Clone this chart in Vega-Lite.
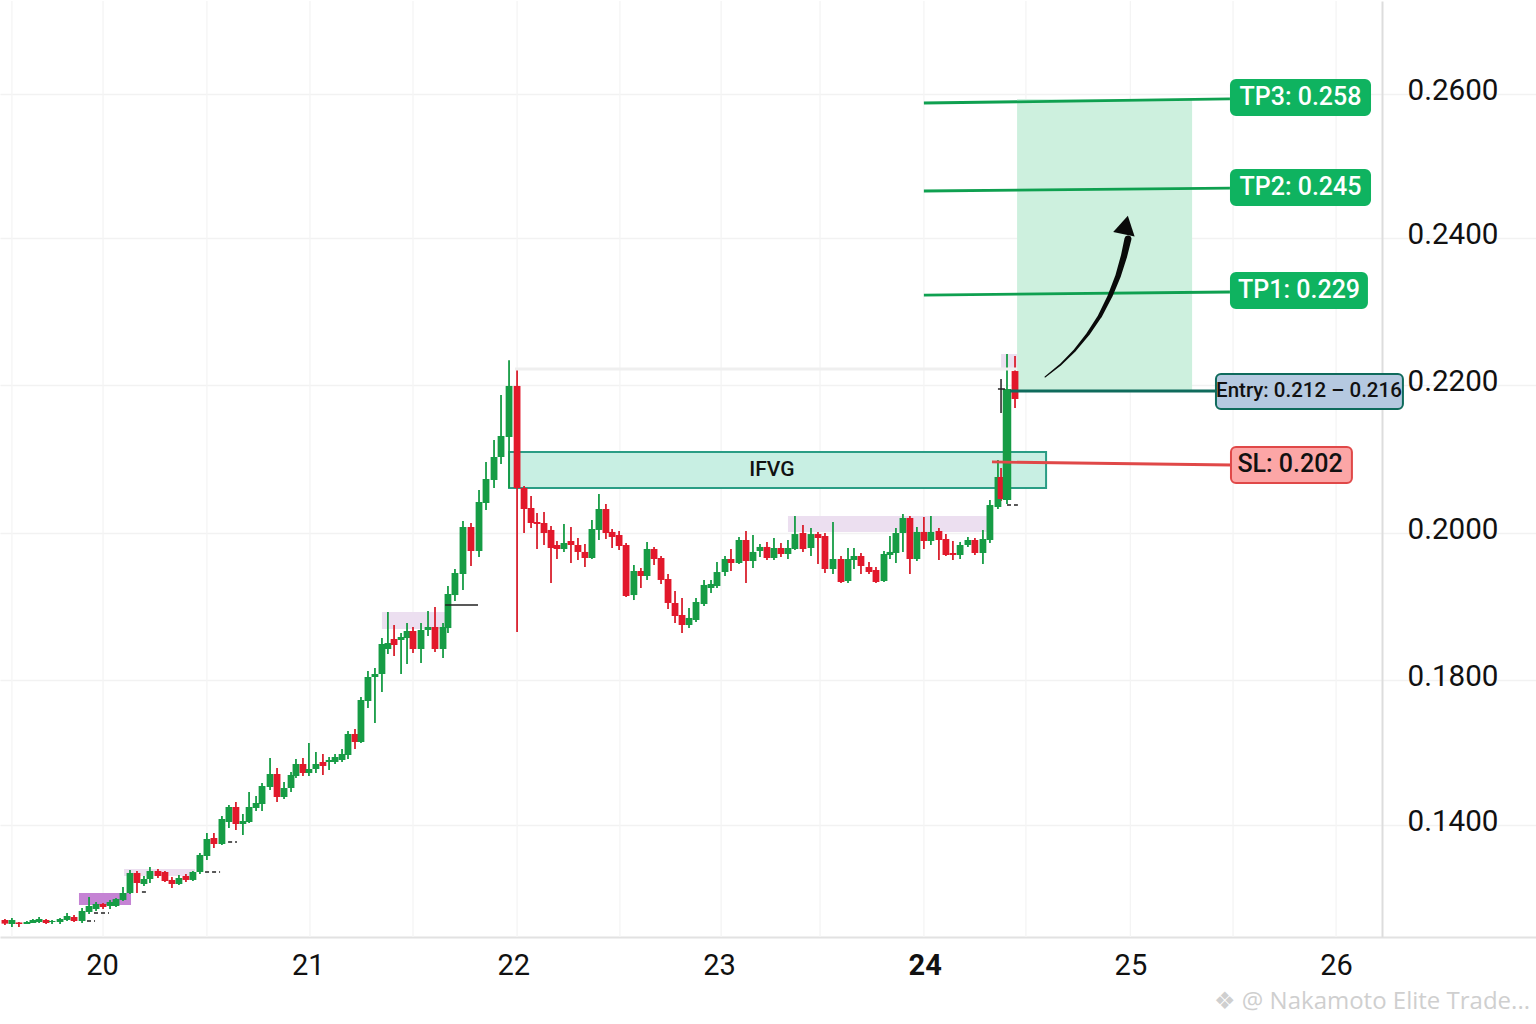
{
  "$schema": "https://vega.github.io/schema/vega-lite/v6.json",
  "width": 1536,
  "height": 936,
  "padding": 0,
  "background": "#ffffff",
  "title": {
    "text": "❖ @ Nakamoto Elite Trade...",
    "orient": "bottom",
    "anchor": "end",
    "frame": "group",
    "font": "Open Sans, DejaVu Sans",
    "fontSize": 24,
    "fontWeight": "normal",
    "color": "#cfcfcf",
    "offset": 10,
    "dx": -6
  },
  "datasets": {
    "vgrid": [
      {"t": 19.562}, {"t": 20.005}, {"t": 20.51}, {"t": 21.011}, {"t": 21.512}, {"t": 22.018}, {"t": 22.518},
      {"t": 23.01}, {"t": 23.491}, {"t": 23.996}, {"t": 24.492}, {"t": 25.0}, {"t": 25.499}, {"t": 26.0}
    ],
    "zones": [
      {"kind": "target", "t": 24.449, "t2": 25.3, "p": 0.25931, "p2": 0.21919},
      {"kind": "lilac", "t": 20.107, "t2": 20.452, "p": 0.12786, "p2": 0.12593},
      {"kind": "purple", "t": 19.888, "t2": 20.141, "p": 0.12124, "p2": 0.11793},
      {"kind": "lilac", "t": 21.361, "t2": 21.677, "p": 0.18925, "p2": 0.18694},
      {"kind": "lilac", "t": 23.335, "t2": 24.303, "p": 0.2023, "p2": 0.20014},
      {"kind": "lilac", "t": 24.371, "t2": 24.449, "p": 0.22422, "p2": 0.22218}
    ],
    "ifvg": [{"t": 21.979, "t2": 24.59, "p": 0.21095, "p2": 0.20608}],
    "levels": [
      {"level": "range", "t": 22.008, "t2": 24.449, "p": 0.22218, "p2": 0.22218},
      {"level": "TP3", "t": 23.996, "t2": 25.484, "p": 0.25875, "p2": 0.25931},
      {"level": "TP2", "t": 23.996, "t2": 25.484, "p": 0.24653, "p2": 0.24694},
      {"level": "TP1", "t": 23.996, "t2": 25.484, "p": 0.23224, "p2": 0.23265},
      {"level": "Entry", "t": 24.415, "t2": 25.416, "p": 0.21919, "p2": 0.21919},
      {"level": "SL", "t": 24.327, "t2": 25.494, "p": 0.2096, "p2": 0.20919}
    ],
    "stubs": [
      {"kind": "dashed", "t": 19.927, "t2": 19.966, "p": 0.11351, "p2": 0.11351},
      {"kind": "dashed", "t": 19.961, "t2": 20.034, "p": 0.11572, "p2": 0.11572},
      {"kind": "dashed", "t": 20.194, "t2": 20.224, "p": 0.12151, "p2": 0.12151},
      {"kind": "dashed", "t": 20.501, "t2": 20.574, "p": 0.12703, "p2": 0.12703},
      {"kind": "dashed", "t": 20.613, "t2": 20.656, "p": 0.13531, "p2": 0.13531},
      {"kind": "dashed", "t": 24.4, "t2": 24.453, "p": 0.20378, "p2": 0.20378},
      {"kind": "solid", "t": 21.668, "t2": 21.828, "p": 0.1902, "p2": 0.1902},
      {"kind": "solid", "t": 24.371, "t2": 24.371, "p": 0.22082, "p2": 0.21622},
      {"kind": "solid", "t": 24.356, "t2": 24.39, "p": 0.21946, "p2": 0.21946}
    ],
    "candles": [
      {"t":19.528,"o":0.11379,"h":0.11406,"l":0.11241,"c":0.11278},
      {"t":19.562,"o":0.11268,"h":0.11434,"l":0.11185,"c":0.11379},
      {"t":19.596,"o":0.1131,"h":0.11323,"l":0.11185,"c":0.11268},
      {"t":19.635,"o":0.11268,"h":0.11351,"l":0.11268,"c":0.11323},
      {"t":19.664,"o":0.11296,"h":0.11406,"l":0.11296,"c":0.11379},
      {"t":19.694,"o":0.11323,"h":0.11461,"l":0.11296,"c":0.11406},
      {"t":19.728,"o":0.11379,"h":0.11406,"l":0.11268,"c":0.11296},
      {"t":19.757,"o":0.11323,"h":0.11379,"l":0.11268,"c":0.11351},
      {"t":19.796,"o":0.11323,"h":0.11434,"l":0.11268,"c":0.11406},
      {"t":19.83,"o":0.11379,"h":0.11572,"l":0.11351,"c":0.11489},
      {"t":19.864,"o":0.11461,"h":0.11517,"l":0.11323,"c":0.11351},
      {"t":19.903,"o":0.11351,"h":0.1171,"l":0.11296,"c":0.11627},
      {"t":19.937,"o":0.11599,"h":0.12013,"l":0.11544,"c":0.11765},
      {"t":19.971,"o":0.11682,"h":0.11875,"l":0.11627,"c":0.1182},
      {"t":20.005,"o":0.1182,"h":0.11848,"l":0.11682,"c":0.11737},
      {"t":20.039,"o":0.11765,"h":0.11931,"l":0.11682,"c":0.11875},
      {"t":20.068,"o":0.11765,"h":0.11986,"l":0.11737,"c":0.11958},
      {"t":20.102,"o":0.11931,"h":0.1229,"l":0.11903,"c":0.12124},
      {"t":20.136,"o":0.12124,"h":0.12759,"l":0.12096,"c":0.12676},
      {"t":20.17,"o":0.12676,"h":0.12731,"l":0.12124,"c":0.124},
      {"t":20.204,"o":0.12372,"h":0.12593,"l":0.12317,"c":0.1251},
      {"t":20.233,"o":0.1251,"h":0.12841,"l":0.124,"c":0.12731},
      {"t":20.272,"o":0.12731,"h":0.12786,"l":0.12538,"c":0.12593},
      {"t":20.306,"o":0.12703,"h":0.12731,"l":0.12427,"c":0.12455},
      {"t":20.34,"o":0.12483,"h":0.12565,"l":0.12262,"c":0.12372},
      {"t":20.374,"o":0.12372,"h":0.1262,"l":0.12345,"c":0.12538},
      {"t":20.408,"o":0.12593,"h":0.12648,"l":0.12427,"c":0.12483},
      {"t":20.442,"o":0.12483,"h":0.12731,"l":0.12455,"c":0.12703},
      {"t":20.476,"o":0.12703,"h":0.13228,"l":0.12648,"c":0.13173},
      {"t":20.51,"o":0.13145,"h":0.13779,"l":0.13035,"c":0.13614},
      {"t":20.544,"o":0.13642,"h":0.13779,"l":0.13366,"c":0.13476},
      {"t":20.583,"o":0.13476,"h":0.14248,"l":0.13449,"c":0.14166},
      {"t":20.617,"o":0.14083,"h":0.14552,"l":0.13917,"c":0.14497},
      {"t":20.651,"o":0.14497,"h":0.14634,"l":0.13862,"c":0.14028},
      {"t":20.685,"o":0.14028,"h":0.14303,"l":0.13724,"c":0.1411},
      {"t":20.715,"o":0.14083,"h":0.1491,"l":0.14055,"c":0.14497},
      {"t":20.749,"o":0.14469,"h":0.148,"l":0.14386,"c":0.14607},
      {"t":20.778,"o":0.14579,"h":0.15159,"l":0.14386,"c":0.15076},
      {"t":20.817,"o":0.15048,"h":0.15849,"l":0.14966,"c":0.15407},
      {"t":20.851,"o":0.15407,"h":0.15573,"l":0.14634,"c":0.14772},
      {"t":20.885,"o":0.14772,"h":0.15186,"l":0.14717,"c":0.15021},
      {"t":20.919,"o":0.15021,"h":0.15462,"l":0.1491,"c":0.15379},
      {"t":20.943,"o":0.15352,"h":0.15821,"l":0.15297,"c":0.15683},
      {"t":20.977,"o":0.15683,"h":0.15849,"l":0.15352,"c":0.15435},
      {"t":21.006,"o":0.15435,"h":0.16262,"l":0.15352,"c":0.15545},
      {"t":21.04,"o":0.15545,"h":0.16014,"l":0.15435,"c":0.15683},
      {"t":21.074,"o":0.15738,"h":0.15959,"l":0.15379,"c":0.15628},
      {"t":21.104,"o":0.15738,"h":0.15876,"l":0.15517,"c":0.15793},
      {"t":21.133,"o":0.15738,"h":0.15959,"l":0.15683,"c":0.15876},
      {"t":21.167,"o":0.15793,"h":0.16097,"l":0.15738,"c":0.15959},
      {"t":21.196,"o":0.15931,"h":0.16593,"l":0.15821,"c":0.1651},
      {"t":21.23,"o":0.1651,"h":0.16648,"l":0.16097,"c":0.1629},
      {"t":21.259,"o":0.1629,"h":0.17531,"l":0.16262,"c":0.17448},
      {"t":21.293,"o":0.17421,"h":0.18123,"l":0.17228,"c":0.18041},
      {"t":21.327,"o":0.18041,"h":0.18163,"l":0.16814,"c":0.18082},
      {"t":21.361,"o":0.18082,"h":0.18571,"l":0.17669,"c":0.1849},
      {"t":21.39,"o":0.18422,"h":0.18925,"l":0.18354,"c":0.18503},
      {"t":21.42,"o":0.18558,"h":0.18748,"l":0.18327,"c":0.18476},
      {"t":21.454,"o":0.18544,"h":0.1864,"l":0.18082,"c":0.18585},
      {"t":21.483,"o":0.18571,"h":0.18776,"l":0.18218,"c":0.18667},
      {"t":21.512,"o":0.18667,"h":0.18721,"l":0.18367,"c":0.18422},
      {"t":21.551,"o":0.18422,"h":0.18776,"l":0.18231,"c":0.1868},
      {"t":21.585,"o":0.1868,"h":0.18939,"l":0.18599,"c":0.18721},
      {"t":21.619,"o":0.18721,"h":0.18993,"l":0.18381,"c":0.18422},
      {"t":21.658,"o":0.18422,"h":0.18776,"l":0.18299,"c":0.18721},
      {"t":21.682,"o":0.18707,"h":0.19279,"l":0.1864,"c":0.1917},
      {"t":21.716,"o":0.19156,"h":0.1951,"l":0.19075,"c":0.19456},
      {"t":21.755,"o":0.19442,"h":0.20162,"l":0.19225,"c":0.20081},
      {"t":21.794,"o":0.20081,"h":0.20135,"l":0.19551,"c":0.19755},
      {"t":21.833,"o":0.19755,"h":0.20581,"l":0.19673,"c":0.20419},
      {"t":21.867,"o":0.20405,"h":0.20959,"l":0.20311,"c":0.2073},
      {"t":21.906,"o":0.20716,"h":0.21257,"l":0.20608,"c":0.21027},
      {"t":21.94,"o":0.21027,"h":0.21865,"l":0.20932,"c":0.21311},
      {"t":21.979,"o":0.21297,"h":0.22338,"l":0.20608,"c":0.21987},
      {"t":22.018,"o":0.21987,"h":0.2223,"l":0.18653,"c":0.20608},
      {"t":22.052,"o":0.20608,"h":0.20635,"l":0.2,"c":0.20324},
      {"t":22.086,"o":0.20338,"h":0.205,"l":0.20068,"c":0.20135},
      {"t":22.115,"o":0.20149,"h":0.2027,"l":0.19782,"c":0.20122},
      {"t":22.149,"o":0.20135,"h":0.20284,"l":0.19837,"c":0.2},
      {"t":22.183,"o":0.20041,"h":0.20095,"l":0.1932,"c":0.19796},
      {"t":22.212,"o":0.19837,"h":0.19891,"l":0.19646,"c":0.19782},
      {"t":22.246,"o":0.19782,"h":0.20122,"l":0.19742,"c":0.19864},
      {"t":22.28,"o":0.19891,"h":0.20081,"l":0.19592,"c":0.19837},
      {"t":22.314,"o":0.19837,"h":0.19932,"l":0.19633,"c":0.19742},
      {"t":22.348,"o":0.19742,"h":0.1985,"l":0.19537,"c":0.1966},
      {"t":22.382,"o":0.1966,"h":0.20176,"l":0.19646,"c":0.20054},
      {"t":22.416,"o":0.20041,"h":0.20527,"l":0.19905,"c":0.20324},
      {"t":22.45,"o":0.20324,"h":0.20392,"l":0.19918,"c":0.2},
      {"t":22.48,"o":0.20014,"h":0.20054,"l":0.19796,"c":0.19946},
      {"t":22.514,"o":0.19973,"h":0.20027,"l":0.19769,"c":0.19823},
      {"t":22.548,"o":0.19837,"h":0.19864,"l":0.19129,"c":0.19143},
      {"t":22.586,"o":0.19156,"h":0.19565,"l":0.19088,"c":0.19483},
      {"t":22.62,"o":0.19483,"h":0.19524,"l":0.19252,"c":0.19415},
      {"t":22.65,"o":0.19415,"h":0.19878,"l":0.19361,"c":0.19782},
      {"t":22.684,"o":0.19782,"h":0.1981,"l":0.19565,"c":0.19646},
      {"t":22.718,"o":0.1966,"h":0.19687,"l":0.19306,"c":0.19361},
      {"t":22.752,"o":0.19374,"h":0.19442,"l":0.18966,"c":0.19048},
      {"t":22.786,"o":0.19048,"h":0.19211,"l":0.18776,"c":0.18871},
      {"t":22.82,"o":0.18884,"h":0.19116,"l":0.1864,"c":0.18748},
      {"t":22.854,"o":0.18748,"h":0.1898,"l":0.18707,"c":0.18844},
      {"t":22.888,"o":0.18816,"h":0.19116,"l":0.18789,"c":0.19061},
      {"t":22.927,"o":0.19034,"h":0.19361,"l":0.19007,"c":0.19293},
      {"t":22.961,"o":0.19252,"h":0.19361,"l":0.19184,"c":0.19306},
      {"t":22.99,"o":0.19279,"h":0.19605,"l":0.19252,"c":0.19469},
      {"t":23.029,"o":0.19469,"h":0.19687,"l":0.19415,"c":0.19646},
      {"t":23.058,"o":0.19646,"h":0.19782,"l":0.19483,"c":0.19592},
      {"t":23.097,"o":0.19592,"h":0.19946,"l":0.19578,"c":0.19905},
      {"t":23.131,"o":0.19905,"h":0.20027,"l":0.1932,"c":0.19619},
      {"t":23.165,"o":0.19619,"h":0.19973,"l":0.19524,"c":0.19742},
      {"t":23.199,"o":0.19755,"h":0.1985,"l":0.19673,"c":0.1981},
      {"t":23.233,"o":0.1981,"h":0.19878,"l":0.19633,"c":0.1966},
      {"t":23.267,"o":0.1966,"h":0.19932,"l":0.19633,"c":0.19796},
      {"t":23.301,"o":0.19796,"h":0.19864,"l":0.19673,"c":0.19714},
      {"t":23.335,"o":0.19714,"h":0.19905,"l":0.19646,"c":0.19796},
      {"t":23.369,"o":0.19782,"h":0.2023,"l":0.19769,"c":0.19986},
      {"t":23.408,"o":0.2,"h":0.20108,"l":0.19742,"c":0.19782},
      {"t":23.447,"o":0.19796,"h":0.20068,"l":0.19687,"c":0.19986},
      {"t":23.481,"o":0.19986,"h":0.20014,"l":0.19578,"c":0.19932},
      {"t":23.515,"o":0.19959,"h":0.2,"l":0.19456,"c":0.1951},
      {"t":23.554,"o":0.1951,"h":0.20149,"l":0.19442,"c":0.19646},
      {"t":23.593,"o":0.19646,"h":0.19687,"l":0.1932,"c":0.19333},
      {"t":23.627,"o":0.19347,"h":0.19796,"l":0.1932,"c":0.19646},
      {"t":23.656,"o":0.19633,"h":0.19796,"l":0.1951,"c":0.19687},
      {"t":23.69,"o":0.19687,"h":0.19728,"l":0.19442,"c":0.19551},
      {"t":23.729,"o":0.19537,"h":0.19605,"l":0.19442,"c":0.19469},
      {"t":23.763,"o":0.19497,"h":0.19537,"l":0.1932,"c":0.19333},
      {"t":23.802,"o":0.19347,"h":0.19755,"l":0.19333,"c":0.19714},
      {"t":23.831,"o":0.19701,"h":0.19959,"l":0.19646,"c":0.19742},
      {"t":23.86,"o":0.19728,"h":0.20068,"l":0.19592,"c":0.2},
      {"t":23.894,"o":0.2,"h":0.20257,"l":0.19742,"c":0.20203},
      {"t":23.928,"o":0.20203,"h":0.2023,"l":0.19442,"c":0.19646},
      {"t":23.962,"o":0.19646,"h":0.20081,"l":0.19619,"c":0.20014},
      {"t":23.996,"o":0.20014,"h":0.20216,"l":0.19782,"c":0.19891},
      {"t":24.03,"o":0.19891,"h":0.2023,"l":0.19837,"c":0.20014},
      {"t":24.069,"o":0.20027,"h":0.20068,"l":0.19633,"c":0.19905},
      {"t":24.103,"o":0.19918,"h":0.19986,"l":0.19687,"c":0.19701},
      {"t":24.137,"o":0.19728,"h":0.19891,"l":0.19633,"c":0.19701},
      {"t":24.172,"o":0.19701,"h":0.19878,"l":0.19646,"c":0.19837},
      {"t":24.21,"o":0.19837,"h":0.19946,"l":0.1981,"c":0.19905},
      {"t":24.244,"o":0.19905,"h":0.19932,"l":0.19701,"c":0.19728},
      {"t":24.283,"o":0.19728,"h":0.20041,"l":0.19578,"c":0.19918},
      {"t":24.317,"o":0.19905,"h":0.20446,"l":0.19864,"c":0.20378},
      {"t":24.356,"o":0.20351,"h":0.20987,"l":0.20324,"c":0.20757},
      {"t":24.371,"o":0.20757,"h":0.20878,"l":0.20432,"c":0.20459},
      {"t":24.4,"o":0.20446,"h":0.22422,"l":0.20392,"c":0.21946},
      {"t":24.439,"o":0.2219,"h":0.22395,"l":0.21689,"c":0.21811}
    ],
    "arrow": [
      {"step": 1, "t": 24.585, "p": 0.22109},
      {"step": 2, "t": 24.658, "p": 0.22272},
      {"step": 3, "t": 24.731, "p": 0.22476},
      {"step": 4, "t": 24.794, "p": 0.22694},
      {"step": 5, "t": 24.852, "p": 0.22939},
      {"step": 6, "t": 24.901, "p": 0.23211},
      {"step": 7, "t": 24.94, "p": 0.23483},
      {"step": 8, "t": 24.969, "p": 0.23755},
      {"step": 9, "t": 24.988, "p": 0.23986}
    ],
    "boxes": [
      {"kind": "tp", "t": 25.489, "t2": 26.165, "p": 0.26195, "p2": 0.25708},
      {"kind": "tp", "t": 25.489, "t2": 26.165, "p": 0.24944, "p2": 0.24458},
      {"kind": "tp", "t": 25.489, "t2": 26.15, "p": 0.23524, "p2": 0.23048},
      {"kind": "entry", "t": 25.416, "t2": 26.325, "p": 0.2215, "p2": 0.21676},
      {"kind": "sl", "t": 25.489, "t2": 26.077, "p": 0.21162, "p2": 0.20676}
    ],
    "labels": [
      {"kind": "tp", "label": "TP3: 0.258", "t": 25.827, "p": 0.25958},
      {"kind": "tp", "label": "TP2: 0.245", "t": 25.827, "p": 0.24708},
      {"kind": "tp", "label": "TP1: 0.229", "t": 25.82, "p": 0.23286},
      {"kind": "entry", "label": "Entry: 0.212 – 0.216", "t": 25.868, "p": 0.21919},
      {"kind": "sl", "label": "SL: 0.202", "t": 25.776, "p": 0.20933},
      {"kind": "zone", "label": "IFVG", "t": 23.257, "p": 0.20851}
    ]
  },
  "layer": [
    {
      "data": {"name": "vgrid"},
      "mark": {"type": "rule", "color": "#f4f4f4", "strokeWidth": 1.3},
      "encoding": {
        "x": {
          "field": "t",
          "type": "quantitative",
          "title": null,
          "scale": {"domain": [19.504, 26.972], "nice": false, "zero": false},
          "axis": {
            "title": null,
            "values": [20, 21, 22, 23, 24, 25, 26],
            "format": "d",
            "grid": false,
            "ticks": false,
            "domainColor": "#e2e2e2",
            "domainWidth": 2,
            "labelFont": "Roboto",
            "labelFontSize": 29,
            "labelColor": "#111111",
            "labelPadding": 14,
            "labelFontWeight": {"condition": {"test": "datum.value === 24", "value": "bold"}, "value": "normal"}
          }
        }
      }
    },
    {
      "data": {"name": "zones"},
      "mark": {"type": "rect"},
      "encoding": {
        "x": {"field": "t", "type": "quantitative", "title": null},
        "x2": {"field": "t2"},
        "y": {
          "field": "p",
          "type": "quantitative",
          "title": null,
          "scale": {
            "domain": [0.10909, 0.14, 0.18, 0.2, 0.22, 0.24, 0.26, 0.27292],
            "range": [936, 824, 679, 532, 384, 237, 93, 0],
            "nice": false,
            "zero": false
          },
          "axis": {
            "orient": "right",
            "offset": -154,
            "title": null,
            "values": [0.14, 0.18, 0.2, 0.22, 0.24, 0.26],
            "format": ".4f",
            "grid": true,
            "gridColor": "#f2f2f2",
            "gridWidth": 1.3,
            "ticks": false,
            "domainColor": "#dddddd",
            "domainWidth": 2,
            "labelFont": "Roboto",
            "labelFontSize": 29.6,
            "labelColor": "#111111",
            "labelPadding": 25,
            "labelOffset": -4
          }
        },
        "y2": {"field": "p2"},
        "color": {
          "field": "kind",
          "type": "nominal",
          "legend": null,
          "scale": {"domain": ["target", "lilac", "purple"], "range": ["#cdf0de", "#ecdff0", "#c583d4"]}
        }
      }
    },
    {
      "data": {"name": "ifvg"},
      "mark": {"type": "rect", "fill": "#c8efe3", "stroke": "#2a9d85", "strokeWidth": 2},
      "encoding": {
        "x": {"field": "t", "type": "quantitative", "title": null},
        "x2": {"field": "t2"},
        "y": {"field": "p", "type": "quantitative", "title": null},
        "y2": {"field": "p2"}
      }
    },
    {
      "data": {"name": "candles"},
      "mark": {"type": "rule", "strokeWidth": 1.8},
      "encoding": {
        "x": {"field": "t", "type": "quantitative", "title": null},
        "y": {"field": "l", "type": "quantitative", "title": null},
        "y2": {"field": "h"},
        "color": {"condition": {"test": "datum.c >= datum.o", "value": "#169c45"}, "value": "#d9202e"}
      }
    },
    {
      "data": {"name": "candles"},
      "mark": {"type": "rule"},
      "encoding": {
        "x": {"field": "t", "type": "quantitative", "title": null},
        "y": {"field": "o", "type": "quantitative", "title": null},
        "y2": {"field": "c"},
        "size": {"condition": {"test": "datum.t === 24.4", "value": 8.5}, "value": 6.8},
        "color": {"condition": {"test": "datum.c >= datum.o", "value": "#169c45"}, "value": "#e2182b"}
      }
    },
    {
      "data": {"name": "stubs"},
      "mark": {"type": "rule", "color": "#222222", "strokeWidth": 1.5},
      "encoding": {
        "x": {"field": "t", "type": "quantitative", "title": null},
        "x2": {"field": "t2"},
        "y": {"field": "p", "type": "quantitative", "title": null},
        "y2": {"field": "p2"},
        "strokeDash": {
          "field": "kind",
          "type": "nominal",
          "legend": null,
          "scale": {"domain": ["dashed", "solid"], "range": [[4, 3], [1, 0]]}
        }
      }
    },
    {
      "data": {"name": "levels"},
      "mark": {"type": "rule", "strokeWidth": 2.8},
      "encoding": {
        "x": {"field": "t", "type": "quantitative", "title": null},
        "x2": {"field": "t2"},
        "y": {"field": "p", "type": "quantitative", "title": null},
        "y2": {"field": "p2"},
        "color": {
          "field": "level",
          "type": "nominal",
          "legend": null,
          "scale": {
            "domain": ["range", "TP3", "TP2", "TP1", "Entry", "SL"],
            "range": ["#efefef", "#0fa050", "#0fa050", "#0fa050", "#0f6b5c", "#e04848"]
          }
        }
      }
    },
    {
      "data": {"name": "arrow"},
      "mark": {"type": "trail", "color": "#0a0a0a"},
      "encoding": {
        "x": {"field": "t", "type": "quantitative", "title": null},
        "y": {"field": "p", "type": "quantitative", "title": null},
        "order": {"field": "step"},
        "size": {"field": "step", "type": "quantitative", "legend": null, "scale": {"range": [1, 7], "zero": false}}
      }
    },
    {
      "data": {"values": [{"t": 24.978, "p": 0.2418}]},
      "mark": {"type": "point", "shape": "triangle-up", "filled": true, "color": "#0a0a0a", "opacity": 1, "size": 480, "angle": 12},
      "encoding": {
        "x": {"field": "t", "type": "quantitative", "title": null},
        "y": {"field": "p", "type": "quantitative", "title": null}
      }
    },
    {
      "data": {"name": "boxes"},
      "mark": {"type": "rect", "cornerRadius": 5, "strokeWidth": 2},
      "encoding": {
        "x": {"field": "t", "type": "quantitative", "title": null},
        "x2": {"field": "t2"},
        "y": {"field": "p", "type": "quantitative", "title": null},
        "y2": {"field": "p2"},
        "fill": {
          "field": "kind",
          "type": "nominal",
          "legend": null,
          "scale": {"domain": ["tp", "entry", "sl"], "range": ["#0fb360", "#b5c9e0", "#fca6a6"]}
        },
        "stroke": {
          "field": "kind",
          "type": "nominal",
          "legend": null,
          "scale": {"domain": ["tp", "entry", "sl"], "range": ["#0fb360", "#0f6b5c", "#e04848"]}
        }
      }
    },
    {
      "data": {"name": "labels"},
      "mark": {"type": "text", "font": "Roboto", "fontWeight": 500, "align": "center", "baseline": "middle"},
      "encoding": {
        "x": {"field": "t", "type": "quantitative", "title": null},
        "y": {"field": "p", "type": "quantitative", "title": null},
        "text": {"field": "label"},
        "size": {
          "condition": [
            {"test": "datum.kind === 'entry'", "value": 20.5},
            {"test": "datum.kind === 'zone'", "value": 21}
          ],
          "value": 25
        },
        "color": {"condition": {"test": "datum.kind === 'tp'", "value": "#ffffff"}, "value": "#111111"}
      }
    }
  ],
  "resolve": {"scale": {"color": "independent", "size": "independent"}},
  "config": {"view": {"stroke": null}}
}
